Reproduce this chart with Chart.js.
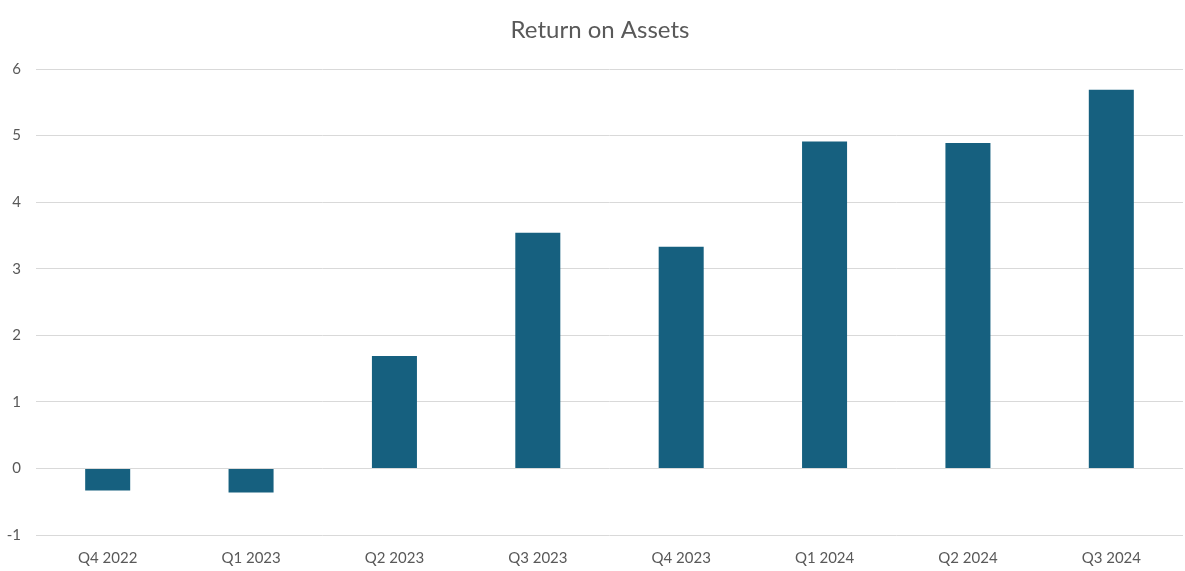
<!DOCTYPE html>
<html>
<head>
<meta charset="utf-8">
<script src="https://cdn.jsdelivr.net/npm/chart.js@4/dist/chart.umd.min.js"></script>
<style>
html,body{margin:0;padding:0;background:#fff;}
#wrap{width:1185px;height:571px;position:relative;}
</style>
</head>
<body>
<div id="wrap"><canvas id="c"></canvas></div>
<script>
const categories = ["Q4 2022","Q1 2023","Q2 2023","Q3 2023","Q4 2023","Q1 2024","Q2 2024","Q3 2024"];
const roaValues = [-0.33, -0.36, 1.69, 3.54, 3.33, 4.91, 4.89, 5.69];
const yTicks = [-1, 0, 1, 2, 3, 4, 5, 6];
const chartTitle = 'Return on Assets';

const titlePlugin = {
  id: 'centeredTitle',
  afterDraw(chart) {
    const ctx = chart.ctx;
    ctx.save();
    ctx.fillStyle = '#595959';
    ctx.font = 'normal 24px Lato';
    ctx.textAlign = 'center';
    ctx.textBaseline = 'middle';
    ctx.fillText(chartTitle, 600, 30);
    ctx.restore();
  }
};

new Chart(document.getElementById('c'), {
  type: 'bar',
  data: {
    labels: categories,
    datasets: [{
      label: chartTitle,
      data: roaValues,
      backgroundColor: '#16607F',
      borderWidth: 0,
      categoryPercentage: 1,
      barPercentage: 0.314
    }]
  },
  plugins: [titlePlugin],
  options: {
    responsive: true,
    maintainAspectRatio: false,
    animation: false,
    layout: { padding: { left: 0, right: 2, top: 69, bottom: 0 } },
    plugins: {
      legend: { display: false },
      tooltip: { enabled: false },
      title: { display: false }
    },
    scales: {
      x: {
        grid: { display: false },
        border: { display: false },
        ticks: { color: '#595959', font: { family: 'Lato', size: 15 }, padding: 6, maxRotation: 0 },
        afterFit: s => { s.height = 36; }
      },
      y: {
        min: yTicks[0],
        max: yTicks[yTicks.length - 1],
        grid: { color: '#d9d9d9', lineWidth: 1, drawTicks: false },
        border: { display: false },
        afterBuildTicks: s => { s.ticks = yTicks.map(v => ({ value: v })); },
        ticks: { color: '#595959', font: { family: 'Lato', size: 15 }, padding: 15 },
        afterFit: s => { s.width = 36; }
      }
    }
  }
});
</script>
</body>
</html>
